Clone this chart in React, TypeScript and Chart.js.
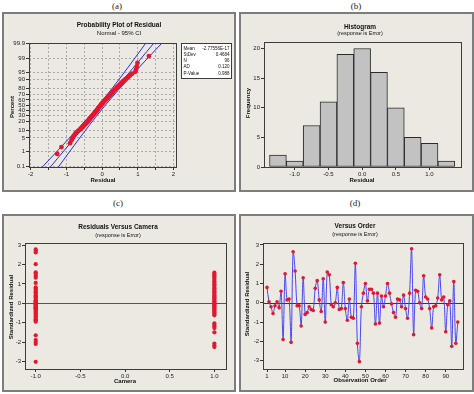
import React, { useEffect, useRef } from 'react';
import { Chart, registerables } from 'chart.js';
Chart.register(...registerables);

const FONT = '"Liberation Sans", Arial, sans-serif';
const BG = '#ebe9e2';
const RED = '#e3172d';
const BLUE = '#2b2be6';

// ---------- (a) Probability plot ----------
const residuals = [
  -1.26, -1.14, -0.9, -0.86, -0.83, -0.8, -0.77, -0.74, -0.7, -0.66,
  -0.61, -0.58, -0.56, -0.53, -0.51, -0.49, -0.46, -0.44, -0.42, -0.4, -0.38,
  -0.37, -0.36, -0.34, -0.33, -0.31, -0.3, -0.29, -0.27, -0.26, -0.24, -0.23, -0.22, -0.2, -0.19, -0.18, -0.16, -0.15, -0.14, -0.13,
  -0.12, -0.11, -0.1, -0.09, -0.07, -0.06, -0.05, -0.04, -0.03, -0.02, 0.0, 0.01, 0.02, 0.03, 0.05, 0.06, 0.07, 0.09, 0.1, 0.12,
  0.13, 0.14, 0.16, 0.17, 0.19, 0.2, 0.22, 0.23, 0.25, 0.26, 0.28, 0.3, 0.31, 0.33, 0.35, 0.37,
  0.39, 0.41, 0.43, 0.45, 0.48, 0.5, 0.52, 0.55, 0.58, 0.61,
  0.65, 0.69, 0.73, 0.78, 0.84,
  0.93, 0.95, 0.97, 0.99,
  1.31,
];
const probTickPercents = [0.1, 1, 5, 10, 20, 30, 40, 50, 60, 70, 80, 90, 95, 99, 99.9];
const probTickLabels = ['0.1', '1', '5', '10', '20', '30', '40', '50', '60', '70', '80', '90', '95', '99', '99.9'];
const aXGrid = [-2, -1.5, -1, -0.5, 0, 0.5, 1, 1.5, 2];
const fitScores = [-3.5, 3.5];
const fitResiduals = [-1.639, 1.639];
const ciScores = [-3.5, -3, -2.5, -2, -1.5, -1, -0.5, 0, 0.5, 1, 1.5, 2, 2.5, 3, 3.5];
const ciLower = [-1.889, -1.625, -1.361, -1.099, -0.84, -0.583, -0.333, -0.094, 0.135, 0.353, 0.566, 0.775, 0.981, 1.185, 1.389];
const ciUpper = [-1.389, -1.185, -0.981, -0.775, -0.566, -0.353, -0.135, 0.094, 0.333, 0.583, 0.84, 1.099, 1.361, 1.625, 1.889];
const statLabels = ['Mean', 'StDev', 'N', 'AD', 'P-Value'];
const statValues = ['-2.77556E-17', '0.4684', '96', '0.120', '0.988'];

// ---------- (b) Histogram ----------
const histCenters = [-1.25, -1.0, -0.75, -0.5, -0.25, 0, 0.25, 0.5, 0.75, 1.0, 1.25];
const histCounts = [2, 1, 7, 11, 19, 20, 16, 10, 5, 4, 1];
const histXTicks = [-1, -0.5, 0, 0.5, 1];
const histYTicks = [0, 5, 10, 15, 20];

// ---------- (c) Residuals vs Camera ----------
const cameraLevels = [-1, 1];
const camMinus = [
  2.78, 2.7, 2.62, 2.02, 1.6, 1.52, 1.42, 1.32, 1.05, 0.82, 0.75, 0.68, 0.6, 0.55, 0.48, 0.4,
  0.35, 0.3, 0.22, 0.15, 0.12, 0.1, 0.05, 0.0, -0.02, -0.05, -0.1, -0.15, -0.2, -0.25, -0.28,
  -0.3, -0.35, -0.4, -0.45, -0.5, -0.55, -0.6, -0.68, -0.75, -0.82, -0.88, -0.95, -1.65, -1.9,
  -2.0, -2.1, -3.02,
];
const camPlus = [
  1.58, 1.52, 1.45, 1.38, 1.3, 1.22, 1.12, 1.05, 0.98, 0.9, 0.82, 0.75, 0.7, 0.62, 0.55, 0.48,
  0.42, 0.35, 0.3, 0.25, 0.18, 0.12, 0.08, 0.02, -0.03, -0.08, -0.12, -0.18, -0.22, -0.28,
  -0.33, -0.38, -0.45, -0.5, -0.55, -0.62, -1.03, -1.12, -1.2, -1.28, -1.5, -2.08, -2.18, -2.26,
];
const camXTicks = [-1, -0.5, 0, 0.5, 1];
const stdYTicks = [-3, -2, -1, 0, 1, 2, 3];

// ---------- (d) Versus order ----------
const orderResiduals = [
  0.8, 0.05, -0.2, -0.55, -0.15, 0.05, -0.25, 0.6, -1.9, 1.5,
  0.15, 0.2, -2.05, 2.65, 1.65, -0.15, -0.15, -1.2, 1.3, -0.6,
  -0.5, -0.2, -0.35, -0.4, 0.75, 1.15, 0.15, -0.45, 1.25, -1.0,
  1.6, 1.45, -0.1, -0.2, 0.0, 0.8, -0.35, -0.3, 1.05, -0.3,
  -0.9, 0.2, -0.75, -0.8, 2.05, -2.1, -3.05, -0.2, 0.5, 1.0,
  0.1, 0.7, 0.7, 0.5, -1.1, 0.5, -1.05, 0.35, -0.2, 0.35,
  1.0, 0.5, -0.05, -0.5, -0.75, 0.2, 0.15, -0.2, 0.4, -0.3,
  -0.8, 0.5, 2.8, -1.65, 0.65, 0.6, 0.0, -0.3, 1.4, 0.3,
  0.2, -0.3, -1.3, -0.2, -0.15, 0.25, 1.45, 0.15, 0.3, -1.5,
  -0.1, 0.1, -2.25, 1.1, -2.1, -1.0,
];
const orderXTicks = [1, 10, 20, 30, 40, 50, 60, 70, 80, 90];

function probit(p: number): number {
  const a = [-3.969683028665376e1, 2.209460984245205e2, -2.759285104469687e2, 1.38357751867269e2, -3.066479806614716e1, 2.506628277459239];
  const b = [-5.447609879822406e1, 1.615858368580409e2, -1.556989798598866e2, 6.680131188771972e1, -1.328068155288572e1];
  const c = [-7.784894002430293e-3, -3.223964580411365e-1, -2.400758277161838, -2.549732539343734, 4.374664141464968, 2.938163982698783];
  const d = [7.784695709041462e-3, 3.224671290700398e-1, 2.445134137142996, 3.754408661907416];
  const pl = 0.02425;
  if (p < pl) {
    const q = Math.sqrt(-2 * Math.log(p));
    return (((((c[0] * q + c[1]) * q + c[2]) * q + c[3]) * q + c[4]) * q + c[5]) / ((((d[0] * q + d[1]) * q + d[2]) * q + d[3]) * q + 1);
  }
  if (p > 1 - pl) {
    const q = Math.sqrt(-2 * Math.log(1 - p));
    return -(((((c[0] * q + c[1]) * q + c[2]) * q + c[3]) * q + c[4]) * q + c[5]) / ((((d[0] * q + d[1]) * q + d[2]) * q + d[3]) * q + 1);
  }
  const q = p - 0.5;
  const r = q * q;
  return ((((((a[0] * r + a[1]) * r + a[2]) * r + a[3]) * r + a[4]) * r + a[5]) * q) / (((((b[0] * r + b[1]) * r + b[2]) * r + b[3]) * r + b[4]) * r + 1);
}

type TextItem = { t: string; x: number; y: number; font: string; rot?: boolean; align?: CanvasTextAlign };
const bold = (s: number) => `bold ${s}px ${FONT}`;
const norm = (s: number) => `${s}px ${FONT}`;

function decor(texts: TextItem[], zeroLine: string | null, extra?: (chart: any) => void) {
  return {
    id: 'decor',
    beforeDatasetsDraw(chart: any) {
      if (!zeroLine) return;
      const { ctx, chartArea: a, scales } = chart;
      const y = Math.round(scales.y.getPixelForValue(0)) + 0.5;
      ctx.save();
      ctx.strokeStyle = zeroLine;
      ctx.lineWidth = 1;
      ctx.beginPath();
      ctx.moveTo(a.left, y);
      ctx.lineTo(a.right, y);
      ctx.stroke();
      ctx.restore();
    },
    afterDraw(chart: any) {
      const { ctx, chartArea: a } = chart;
      ctx.save();
      ctx.strokeStyle = '#3c3c3c';
      ctx.lineWidth = 1;
      ctx.strokeRect(Math.round(a.left) + 0.5, Math.round(a.top) + 0.5, Math.round(a.right - a.left), Math.round(a.bottom - a.top));
      ctx.fillStyle = '#111';
      ctx.textBaseline = 'middle';
      for (const it of texts) {
        ctx.save();
        ctx.font = it.font;
        ctx.textAlign = it.align || 'center';
        ctx.translate(it.x, it.y);
        if (it.rot) ctx.rotate(-Math.PI / 2);
        ctx.fillText(it.t, 0, 0);
        ctx.restore();
      }
      if (extra) extra(chart);
      ctx.restore();
    },
  };
}

type Area = { l: number; t: number; r: number; b: number };
function frame(W: number, H: number, area: Area, yW: number, xH: number) {
  return {
    padding: { left: area.l - yW, top: area.t, right: W - area.r, bottom: H - area.b - xH },
    yFit: (s: any) => { s.width = yW; },
    xFit: (s: any) => { s.height = xH; },
  };
}

const tickFont = { family: FONT, size: 6 };
const TICKC = '#222';

function axis(extra: any, fit: (s: any) => void, tickVals: number[], cb: (v: number, i: number) => string, gridOn = false) {
  return {
    type: 'linear',
    offset: false,
    ...extra,
    afterBuildTicks: (s: any) => { s.ticks = tickVals.map((v) => ({ value: v })); },
    afterFit: fit,
    ticks: { callback: (v: number, i: number) => cb(v, i), font: tickFont, color: TICKC, padding: 1, autoSkip: false, maxRotation: 0, minRotation: 0 },
    grid: { offset: false, drawOnChartArea: gridOn, color: '#a9a9a9', tickLength: 3, tickColor: '#333', lineWidth: 1 },
    border: { display: false, dash: gridOn ? [2, 2] : [] },
  };
}

function makeA(canvas: HTMLCanvasElement) {
  const W = canvas.width, H = canvas.height;
  const f = frame(W, H, { l: 25, t: 29, r: 172, b: 153 }, 18, 10);
  const n = residuals.length;
  const pts = residuals.map((r, i) => ({ x: r, y: probit((i + 1 - 0.3) / (n + 0.4)) }));
  const line = (xs: number[], ys: number[]) => ({
    data: xs.map((x, i) => ({ x, y: ys[i] })), showLine: true, borderColor: BLUE, borderWidth: 1, pointRadius: 0, fill: false, tension: 0.3,
  });
  return new Chart(canvas, {
    type: 'scatter',
    data: {
      datasets: [
        { data: pts, backgroundColor: RED, borderColor: RED, pointRadius: 2.4, pointBorderWidth: 0 } as any,
        line(fitResiduals, fitScores),
        line(ciLower, ciScores),
        line(ciUpper, ciScores),
      ],
    },
    options: {
      animation: false, responsive: false, events: [],
      layout: { padding: f.padding },
      plugins: { legend: { display: false }, tooltip: { enabled: false } },
      scales: {
        x: axis({ min: -2.05, max: 2.07 }, f.xFit, aXGrid, (v) => (Number.isInteger(v) ? String(v) : ''), true),
        y: axis({ min: -3.1, max: 3.1 }, f.yFit, probTickPercents.map((p) => probit(p / 100)), (v, i) => probTickLabels[i], true),
      } as any,
    },
    plugins: [decor([
      { t: 'Probability Plot of Residual', x: 115, y: 11, font: bold(6.5) },
      { t: 'Normal - 95% CI', x: 115, y: 19, font: norm(6) },
      { t: 'Percent', x: 8, y: 93, font: bold(6), rot: true },
      { t: 'Residual', x: 99, y: 166, font: bold(6) },
    ], null, (chart: any) => {
      const ctx = chart.ctx;
      const bx = 177.5, by = 29.5, bw = 50, bh = 35;
      ctx.fillStyle = '#ffffff';
      ctx.fillRect(bx, by, bw, bh);
      ctx.strokeStyle = '#3c3c3c';
      ctx.strokeRect(bx, by, bw, bh);
      ctx.fillStyle = '#111';
      ctx.font = norm(4.5);
      ctx.textBaseline = 'middle';
      statLabels.forEach((s, i) => {
        const y = by + 5 + i * 6.2;
        ctx.textAlign = 'left';
        ctx.fillText(s, bx + 2, y);
        ctx.textAlign = 'right';
        ctx.fillText(statValues[i], bx + bw - 2, y);
      });
    }) as any],
  } as any);
}

function makeB(canvas: HTMLCanvasElement) {
  const W = canvas.width, H = canvas.height;
  const f = frame(W, H, { l: 23, t: 28, r: 220, b: 153 }, 16, 10);
  return new Chart(canvas, {
    type: 'bar',
    data: {
      datasets: [{
        data: histCenters.map((c, i) => ({ x: c, y: histCounts[i] })),
        backgroundColor: '#c2c2c2', borderColor: '#2b2b2b', borderWidth: 1, borderSkipped: false,
        barPercentage: 1, categoryPercentage: 1,
      } as any],
    },
    options: {
      animation: false, responsive: false, events: [],
      layout: { padding: f.padding },
      plugins: { legend: { display: false }, tooltip: { enabled: false } },
      scales: {
        x: axis({ min: -1.457, max: 1.467 }, f.xFit, histXTicks, (v) => v.toFixed(1)),
        y: axis({ min: 0, max: 21.1 }, f.yFit, histYTicks, (v) => String(v)),
      } as any,
    },
    plugins: [decor([
      { t: 'Histogram', x: 119, y: 13, font: bold(6.5) },
      { t: '(response is Error)', x: 119, y: 19.5, font: norm(5.5) },
      { t: 'Frequency', x: 7.5, y: 89, font: bold(6), rot: true },
      { t: 'Residual', x: 121, y: 166, font: bold(6) },
    ], null) as any],
  } as any);
}

function makeC(canvas: HTMLCanvasElement) {
  const W = canvas.width, H = canvas.height;
  const f = frame(W, H, { l: 21, t: 27, r: 222, b: 153 }, 12, 10);
  const ds = (vals: number[], lvl: number) => ({
    data: vals.map((v) => ({ x: lvl, y: v })), backgroundColor: RED, borderColor: RED, pointRadius: 2.1, pointBorderWidth: 0,
  });
  return new Chart(canvas, {
    type: 'scatter',
    data: { datasets: [ds(camMinus, cameraLevels[0]), ds(camPlus, cameraLevels[1])] as any },
    options: {
      animation: false, responsive: false, events: [],
      layout: { padding: f.padding },
      plugins: { legend: { display: false }, tooltip: { enabled: false } },
      scales: {
        x: axis({ min: -1.12, max: 1.13 }, f.xFit, camXTicks, (v) => v.toFixed(1)),
        y: axis({ min: -3.39, max: 3.11 }, f.yFit, stdYTicks, (v) => String(v)),
      } as any,
    },
    plugins: [decor([
      { t: 'Residuals Versus Camera', x: 114, y: 11, font: bold(6.5) },
      { t: '(response is Error)', x: 114, y: 19, font: norm(5.5) },
      { t: 'Standardized Residual', x: 7.5, y: 91, font: bold(6), rot: true },
      { t: 'Camera', x: 121, y: 165, font: bold(6) },
    ], '#555555') as any],
  } as any);
}

function makeD(canvas: HTMLCanvasElement) {
  const W = canvas.width, H = canvas.height;
  const f = frame(W, H, { l: 22, t: 27, r: 222, b: 153 }, 12, 10);
  return new Chart(canvas, {
    type: 'scatter',
    data: {
      datasets: [{
        data: orderResiduals.map((v, i) => ({ x: i + 1, y: v })),
        showLine: true, borderColor: '#4646f0', borderWidth: 1, tension: 0.35,
        pointRadius: 1.8, pointBackgroundColor: RED, pointBorderWidth: 0, fill: false,
      } as any],
    },
    options: {
      animation: false, responsive: false, events: [],
      layout: { padding: f.padding },
      plugins: { legend: { display: false }, tooltip: { enabled: false } },
      scales: {
        x: axis({ min: -1.0, max: 98.6 }, f.xFit, orderXTicks, (v) => String(v)),
        y: axis({ min: -3.43, max: 3.1 }, f.yFit, stdYTicks, (v) => String(v)),
      } as any,
    },
    plugins: [decor([
      { t: 'Versus Order', x: 114, y: 10, font: bold(6.5) },
      { t: '(response is Error)', x: 114, y: 18, font: norm(5.5) },
      { t: 'Standardized Residual', x: 6, y: 88, font: bold(6), rot: true },
      { t: 'Observation Order', x: 119, y: 164, font: bold(6) },
    ], '#34344a') as any],
  } as any);
}

function Panel({ left, top, w, h, make }: { left: number; top: number; w: number; h: number; make: (c: HTMLCanvasElement) => Chart }) {
  const ref = useRef<HTMLCanvasElement>(null);
  useEffect(() => {
    const chart = make(ref.current!);
    return () => chart.destroy();
  }, []);
  return (
    <div style={{ position: 'absolute', left, top, width: w, height: h, boxSizing: 'border-box', border: '2px solid #7d7d7d', background: BG }}>
      <canvas ref={ref} width={w - 4} height={h - 4} style={{ display: 'block', width: w - 4, height: h - 4 }} />
    </div>
  );
}

const labelStyle = (x: number, y: number): React.CSSProperties => ({
  position: 'absolute', left: x - 15, top: y - 6, width: 30, textAlign: 'center',
  font: '9px "Liberation Serif", "DejaVu Serif", serif', color: '#222', lineHeight: '12px',
});

export default function App() {
  return (
    <div style={{ position: 'fixed', left: 0, top: 0, width: 474, height: 394, background: '#ffffff', overflow: 'hidden' }}>
      <div style={labelStyle(117, 6)}>(a)</div>
      <div style={labelStyle(356, 6)}>(b)</div>
      <div style={labelStyle(118, 203)}>(c)</div>
      <div style={labelStyle(355, 203)}>(d)</div>
      <Panel left={2} top={12} w={234} h={180} make={makeA} />
      <Panel left={239} top={12} w={235} h={180} make={makeB} />
      <Panel left={2} top={214} w={234} h={178} make={makeC} />
      <Panel left={239} top={214} w={235} h={178} make={makeD} />
    </div>
  );
}
